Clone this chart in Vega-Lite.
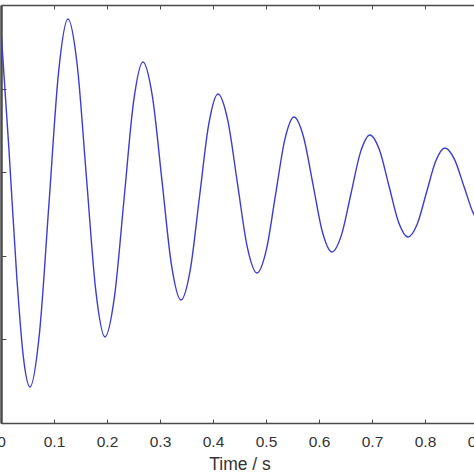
{
  "$schema": "https://vega.github.io/schema/vega-lite/v6.json",
  "width": 477,
  "height": 418,
  "autosize": {"type": "none"},
  "padding": {"left": 1, "top": 5, "right": -4, "bottom": 51},
  "background": "white",
  "config": {
    "view": {"stroke": null},
    "axis": {
      "grid": false,
      "domainColor": "#4a4a4a",
      "domainWidth": 1.5,
      "tickColor": "#4a4a4a",
      "tickSize": -4,
      "labelFont": "Liberation Sans",
      "labelFontSize": 15.5,
      "labelColor": "#333333",
      "labelFlush": false,
      "labelOverlap": false,
      "labelBound": false,
      "titleFont": "Liberation Sans",
      "titleFontSize": 17.5,
      "titleFontWeight": "normal",
      "titleColor": "#333333"
    }
  },
  "data": {
    "values": [
      {"t": 0.0, "v": 4.70},
      {"t": 0.015, "v": 3.27},
      {"t": 0.030, "v": 1.725},
      {"t": 0.042, "v": 0.80},
      {"t": 0.0547, "v": 0.431},
      {"t": 0.0726, "v": 1.075},
      {"t": 0.0906, "v": 2.632},
      {"t": 0.1085, "v": 4.188},
      {"t": 0.1264, "v": 4.833},
      {"t": 0.1439, "v": 4.276},
      {"t": 0.1613, "v": 2.931},
      {"t": 0.1788, "v": 1.586},
      {"t": 0.1962, "v": 1.029},
      {"t": 0.2141, "v": 1.511},
      {"t": 0.2321, "v": 2.674},
      {"t": 0.2500, "v": 3.836},
      {"t": 0.2679, "v": 4.318},
      {"t": 0.2858, "v": 3.901},
      {"t": 0.3038, "v": 2.894},
      {"t": 0.3217, "v": 1.888},
      {"t": 0.3396, "v": 1.471},
      {"t": 0.3571, "v": 1.832},
      {"t": 0.3745, "v": 2.703},
      {"t": 0.3920, "v": 3.574},
      {"t": 0.4094, "v": 3.935},
      {"t": 0.4278, "v": 3.622},
      {"t": 0.4462, "v": 2.864},
      {"t": 0.4646, "v": 2.107},
      {"t": 0.4830, "v": 1.794},
      {"t": 0.5005, "v": 2.067},
      {"t": 0.5179, "v": 2.727},
      {"t": 0.5354, "v": 3.387},
      {"t": 0.5528, "v": 3.660},
      {"t": 0.5707, "v": 3.424},
      {"t": 0.5887, "v": 2.852},
      {"t": 0.6066, "v": 2.281},
      {"t": 0.6245, "v": 2.045},
      {"t": 0.6424, "v": 2.250},
      {"t": 0.6604, "v": 2.745},
      {"t": 0.6783, "v": 3.240},
      {"t": 0.6962, "v": 3.445},
      {"t": 0.7141, "v": 3.266},
      {"t": 0.7321, "v": 2.835},
      {"t": 0.7500, "v": 2.404},
      {"t": 0.7679, "v": 2.225},
      {"t": 0.7854, "v": 2.381},
      {"t": 0.8028, "v": 2.757},
      {"t": 0.8203, "v": 3.133},
      {"t": 0.8377, "v": 3.289},
      {"t": 0.8556, "v": 3.154},
      {"t": 0.8736, "v": 2.829},
      {"t": 0.8915, "v": 2.505},
      {"t": 0.9094, "v": 2.37}
    ]
  },
  "resolve": {"axis": {"x": "independent"}},
  "layer": [
    {
      "mark": {"type": "line", "interpolate": "monotone", "color": "#3c3cd0", "strokeWidth": 1.4, "clip": true},
      "encoding": {
        "x": {
          "field": "t",
          "type": "quantitative",
          "scale": {"domain": [0, 0.9], "nice": false, "zero": false},
          "axis": {
            "orient": "bottom",
            "values": [0, 0.1, 0.2, 0.3, 0.4, 0.5, 0.6, 0.7, 0.8, 0.9],
            "format": "~g",
            "labelPadding": 15,
            "title": "Time / s",
            "titlePadding": 6
          }
        },
        "y": {
          "field": "v",
          "type": "quantitative",
          "scale": {"domain": [0, 5], "nice": false, "zero": false},
          "axis": {
            "values": [0, 1, 2, 3, 4, 5],
            "labels": false,
            "title": null,
            "domainWidth": 2.5,
            "tickSize": -5
          }
        }
      }
    },
    {
      "mark": {"type": "line", "opacity": 0},
      "encoding": {
        "x": {
          "field": "t",
          "type": "quantitative",
          "axis": {
            "orient": "top",
            "values": [0, 0.1, 0.2, 0.3, 0.4, 0.5, 0.6, 0.7, 0.8, 0.9],
            "labels": false,
            "title": null
          }
        },
        "y": {"field": "v", "type": "quantitative"}
      }
    }
  ]
}
